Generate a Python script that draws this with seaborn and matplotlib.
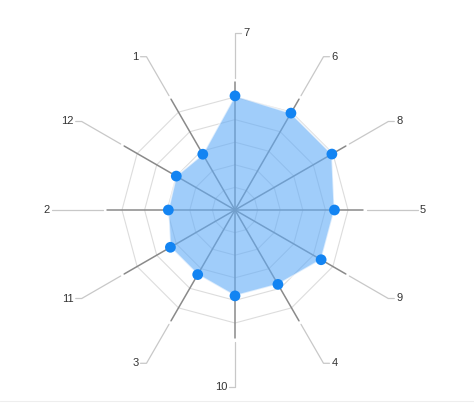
import numpy as np
import pandas as pd
import matplotlib
matplotlib.use("Agg")
import matplotlib.pyplot as plt
import seaborn as sns

sns.set_theme(style="white")
plt.rcParams['font.family'] = ['Liberation Sans', 'DejaVu Sans']

# clockwise from the top
labels = ["7", "6", "8", "5", "9", "4", "10", "3", "11", "2", "12", "1"]
values = [101, 99, 99, 88, 88, 76, 76, 66, 66, 59, 60, 57]
ring_levels = [20, 40, 60, 80, 100]

px = 1.13  # pixels per value unit
n = len(labels)
theta = np.arange(n) * 2 * np.pi / n
df = pd.DataFrame({"label": labels, "value": values, "theta": theta})
df["x"] = df["value"] * np.sin(df["theta"])
df["y"] = df["value"] * np.cos(df["theta"])

fig = plt.figure(figsize=(4.74, 4.12), dpi=100)
ax = fig.add_axes([0, 0, 1, 1])
ax.set_xlim(-235 / px, 239 / px)
ax.set_ylim(-(412 - 210) / px, 210 / px)
ax.axis("off")

# grid rings
for lv in ring_levels:
    t = np.append(theta, theta[0])
    ax.plot(lv * np.sin(t), lv * np.cos(t), color="#dddddd", lw=0.8, zorder=1)

# spokes
r_axis = 128 / px
for t in theta:
    ax.plot([0, r_axis * np.sin(t)], [0, r_axis * np.cos(t)], color="#8a8a8a", lw=1.1, zorder=2)

# filled area
ax.fill(df["x"], df["y"], color="#61acf8", alpha=0.6, zorder=3,
        edgecolor="white", linewidth=1.2)

sns.scatterplot(data=df, x="x", y="y", ax=ax, s=60, color="#1384f2",
                edgecolor="none", zorder=5, legend=False)

# leader lines and labels
r0, r1, elbow = 132 / px, 177 / px, 6 / px
for lab, t in zip(labels, theta):
    d = 1 if t < np.pi - 1e-9 else -1
    x0, y0 = r0 * np.sin(t), r0 * np.cos(t)
    x1, y1 = r1 * np.sin(t), r1 * np.cos(t)
    ax.plot([x0, x1, x1 + d * elbow], [y0, y1, y1], color="#c8c8c8", lw=0.9, zorder=1)
    ax.text(x1 + d * (elbow + 2 / px), y1, lab, ha="left" if d > 0 else "right",
            va="center", fontsize=8, color="#333333")

ax.plot([-235 / px, 239 / px], [-(401 - 210) / px] * 2, color="#eeeeee", lw=0.8)

fig.savefig("out.png", dpi=100)
